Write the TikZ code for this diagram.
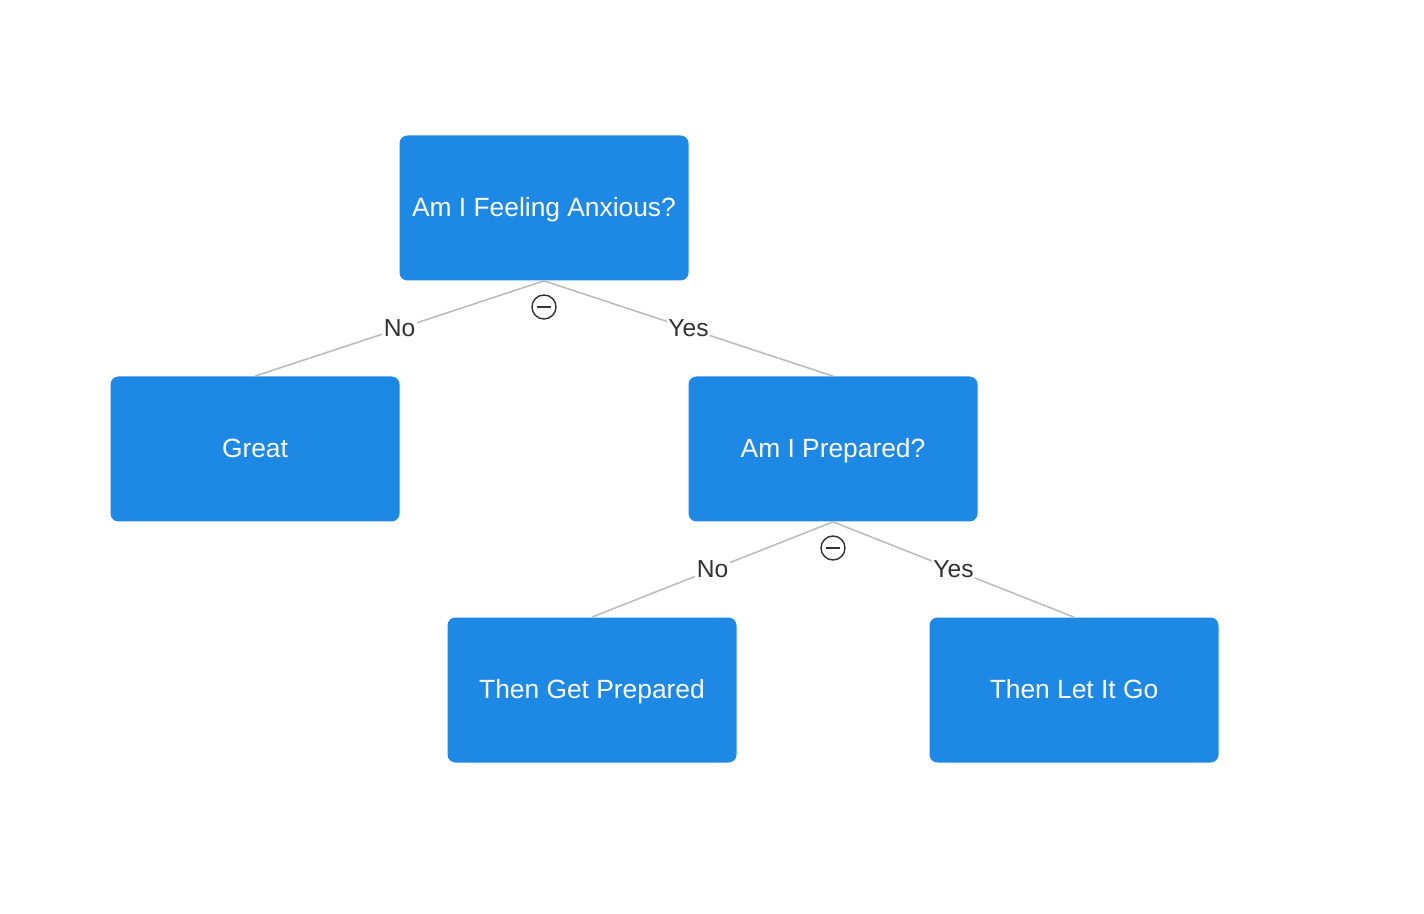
\documentclass[tikz,border=0pt]{standalone}
\usepackage{fontspec}
\setmainfont{Liberation Sans}
\definecolor{boxblue}{RGB}{30,136,229}
\definecolor{linegray}{RGB}{188,188,188}
\definecolor{labelgray}{RGB}{51,51,51}
\tikzset{
  decision/.style={fill=boxblue, rounded corners=0.16cm, minimum width=5.78cm, minimum height=2.9cm, text=white, font=\fontsize{15}{18}\selectfont, align=center, text height=1.1em, text depth=0.18em},
  branch/.style={draw=linegray, line width=0.9pt},
  answer/.style={fill=white, text=labelgray, inner sep=1pt, font=\fontsize{14}{17}\selectfont},
  toggle/.style={circle, draw=labelgray, line width=0.8pt, fill=white, minimum size=0.48cm, inner sep=0pt}
}
\begin{document}
\begin{tikzpicture}[x=1cm,y=1cm]
\useasboundingbox (0,0) rectangle (28.48,-18.28);
\node[decision] (anxious) at (10.88,-4.16) {Am I Feeling Anxious?};
\node[decision] (great) at (5.10,-8.98) {Great};
\node[decision] (prepared) at (16.66,-8.98) {Am I Prepared?};
\node[decision] (getready) at (11.84,-13.80) {Then Get Prepared};
\node[decision] (letgo) at (21.48,-13.80) {Then Let It Go};
\draw[branch] (anxious.south) -- node[answer] {No} (great.north);
\draw[branch] (anxious.south) -- node[answer] {Yes} (prepared.north);
\draw[branch] (prepared.south) -- node[answer] {No} (getready.north);
\draw[branch] (prepared.south) -- node[answer] {Yes} (letgo.north);
% collapse toggles
\node[toggle] (toggleA) at (10.88,-6.14) {};
\draw[labelgray, line width=0.8pt] ([xshift=0.12cm]toggleA.west) -- ([xshift=-0.12cm]toggleA.east);
\node[toggle] (toggleB) at (16.66,-10.96) {};
\draw[labelgray, line width=0.8pt] ([xshift=0.12cm]toggleB.west) -- ([xshift=-0.12cm]toggleB.east);
\end{tikzpicture}
\end{document}
